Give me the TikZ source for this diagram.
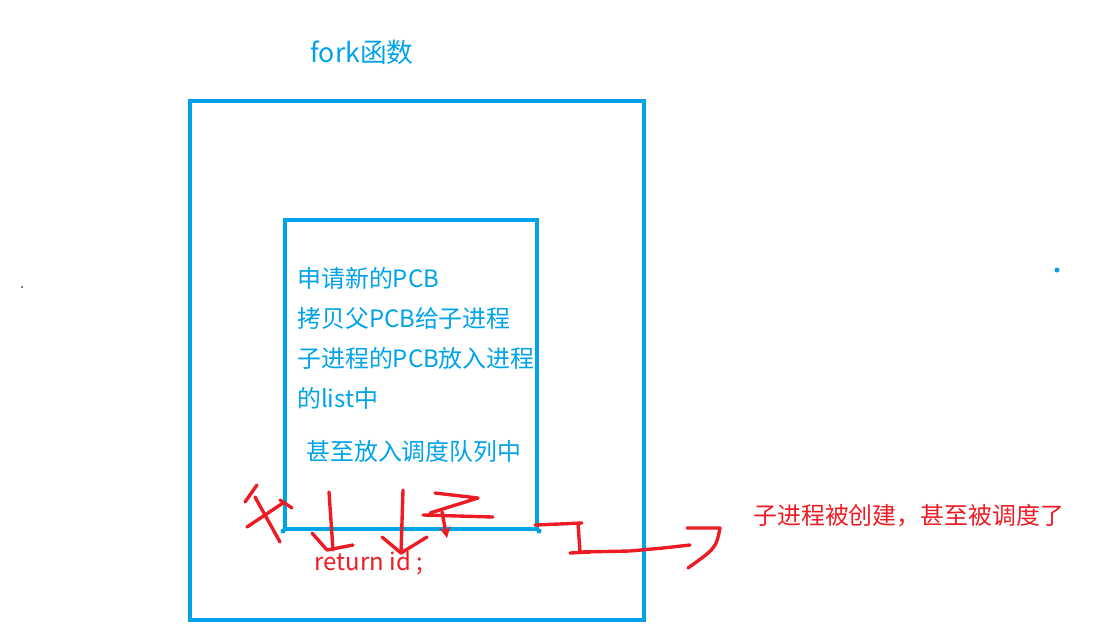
\documentclass[tikz,border=0pt]{standalone}
\usepackage{fontspec}
\setmainfont{Noto Sans CJK SC}
\definecolor{boxblue}{RGB}{0,162,232}
\definecolor{penred}{RGB}{237,28,36}

\tikzstyle{arrow} = [->,>=stealth]
\tikzstyle{scrawl} = [
        draw=penred,
        line width=2.4pt,
        line cap=round,
        line join=round
    ]
\tikzstyle{block} = [
        rectangle,
        draw=boxblue,
        line width=2.8pt,
        inner sep=0pt
    ]
\tikzstyle{bluetext} = [
        text=boxblue,
        inner sep=0pt,
        font=\fontsize{17}{20}\selectfont
    ]
\tikzstyle{redtext} = [
        text=penred,
        inner sep=0pt,
        font=\fontsize{17}{20}\selectfont
    ]

\begin{document}
\begin{tikzpicture}[x=0.025cm, y=-0.025cm]
        \useasboundingbox (0,0) rectangle (1109,641);

        \node (title) at (362,52) [%
            bluetext,%
            font=\fontsize{19}{22}\selectfont%
            ] {fork函数};

        \node (forkbox) at (417,360.5) [%
            block,%
            minimum width=11.35cm,%
            minimum height=12.975cm%
            ] {};

        \node (childbox) at (411,374.5) [%
            block,%
            minimum width=6.3cm,%
            minimum height=7.725cm%
            ] {};
        \fill [boxblue] (childbox.south west) circle (2.5);
        \fill [boxblue] (childbox.south east) circle (2.5);

        % steps inside fork
        \foreach \txt [count=\i] in {申请新的PCB, 拷贝父PCB给子进程, 子进程的PCB放入进程, 的list中}
            \node (line\i) at (297,278+40*\i-40) [bluetext, anchor=west] {\txt};
        \node (queue) at (306,451) [bluetext, anchor=west] {甚至放入调度队列中};

        \node (retid) at (369,563) [redtext] {return id ;};
        \node (created) at (753,516) [redtext, anchor=west] {子进程被创建，甚至被调度了};

        % red pen marks
        \draw [scrawl] (257,485) -- (245,502);
        \draw [scrawl] (255,497) -- (280,542);
        \draw [scrawl] (247,527) -- (283,503);
        \draw [scrawl] (280,500) -- (292,508);

        \draw [scrawl] (329,492) -- (333,550);
        \draw [scrawl] (312,533) -- (327,550) -- (353,545);

        \draw [scrawl] (403,490) -- (401,553);
        \draw [scrawl] (382,537) -- (401,553) -- (427,537);

        \draw [scrawl] (435,493) -- (478,498) -- (430,513);
        \draw [scrawl] (423,515) -- (493,517);
        \draw [scrawl, arrow] (442,512) -- (447,538);

        \coordinate (bend) at (580,552);
        \draw [scrawl] (childbox.south east) ++(-4,-6) -- (582,523);
        \draw [scrawl] (578,523) -- (bend);
        \draw [scrawl] (570,553) -- (590,552);
        \draw [scrawl] (bend) -- (630,551) -- (663,548) -- (690,545);
        \draw [scrawl] (687,528) -- (720,528) .. controls (716,548) .. (688,568);

        % stray dots
        \fill [boxblue] (1057,270) circle (2.5);
        \fill [black] (22,287) circle (0.8);

    \end{tikzpicture}
\end{document}
